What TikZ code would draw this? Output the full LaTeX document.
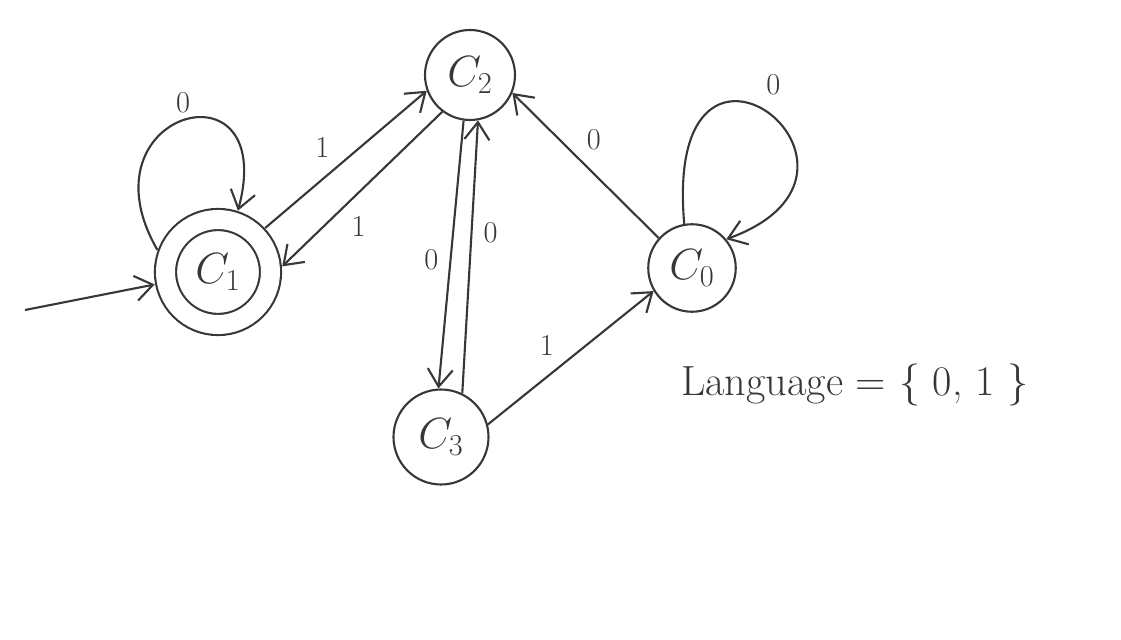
\documentclass[tikz,border=0pt]{standalone}
\usetikzlibrary{arrows.meta}
\definecolor{ink}{RGB}{55,55,55}
\tikzset{
  statenode/.style={draw=ink, circle, line width=1.2pt, minimum size=1.8cm, inner sep=0pt, text=ink, font=\fontsize{24}{28}\selectfont},
  acceptnode/.style={statenode, minimum size=2.1cm, double, double distance=0.38cm, outer sep=0.24cm},
  link/.style={draw=ink, line width=1.2pt, -{Straight Barb[length=3.5mm,width=5mm]}},
  sym/.style={text=ink, font=\LARGE},
}
\begin{document}
\begin{tikzpicture}
\useasboundingbox (0,0) rectangle (22.42,12.78);
\node (c1) [acceptnode] at (4.36,7.34) {$C_1$};
\node (c2) [statenode] at (9.4,11.28) {$C_2$};
\node (c3) [statenode, minimum size=1.9cm] at (8.82,4.04) {$C_3$};
\node (c0) [statenode, minimum size=1.75cm] at (13.84,7.42) {$C_0$};
\coordinate (start) at (0.5,6.58);
\node (lang) [text=ink, font=\fontsize{24}{28}\selectfont] at (17.1,5.08) {Language = \{ 0, 1 \}};
\draw [link] (start) -- (c1);
\draw [link] (c1.160) .. controls +(120:3.2) and +(75:3.2) .. node [sym, above] {0} (c1.72);
\draw [link] (c1.43) -- node [sym, above left=1pt, pos=0.45] {1} (c2.200);
\draw [link] (c2.233) -- node [sym, below right=1pt, pos=0.62] {1} (c1.5);
\draw [link] (c2.262) -- node [sym, left=3pt, pos=0.52] {0} (c3.93);
\draw [link] (c3.64) -- node [sym, right=3pt, pos=0.59] {0} (c2.280);
\draw [link] (c0.138) -- node [sym, above right=1pt, pos=0.55] {0} (c2.337);
\draw [link] (c3.15) -- node [sym, above left=1pt, pos=0.45] {1} (c0.211);
\draw [link] (c0.100) .. controls +(95:5) and +(20:4) .. node [sym, above right=2pt, pos=0.45] {0} (c0.40);
\end{tikzpicture}
\end{document}
